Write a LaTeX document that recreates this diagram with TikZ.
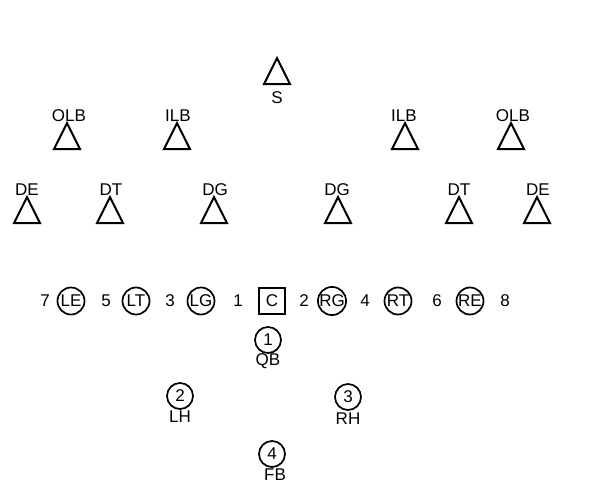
\documentclass[tikz,border=0pt]{standalone}
\usepackage{fontspec}
\setmainfont{Liberation Sans}
\usetikzlibrary{shapes.geometric}
\begin{document}
\begin{tikzpicture}[x=1pt,y=-1pt,
  every node/.style={font=\fontsize{17}{17}\selectfont, inner sep=0pt},
  tri/.style={draw, line width=2pt, isosceles triangle, isosceles triangle stretches=true,
    shape border rotate=90, minimum width=26pt, minimum height=26pt, inner sep=0pt},
  player/.style={draw, circle, line width=1.7pt, minimum size=27pt, inner sep=0pt},
  center/.style={draw, rectangle, line width=2pt, minimum size=26pt, inner sep=0pt},
  lbl/.style={}]
\useasboundingbox (0,0) rectangle (600,500);
% defense
\node[tri] (s) at (277,76) {};
\node[lbl] (sl) at (277,98) {S};
\node[tri] (olbl) at (67,141) {};
\node[lbl] (olbll) at (69,116) {OLB};
\node[tri] (ilbl) at (177,141) {};
\node[lbl] (ilbll) at (178,116) {ILB};
\node[tri] (ilbr) at (405,141) {};
\node[lbl] (ilbrl) at (404,116) {ILB};
\node[tri] (olbr) at (511,141) {};
\node[lbl] (olbrl) at (513,116) {OLB};
\node[tri] (del) at (27,215) {};
\node[lbl] (dell) at (27,190) {DE};
\node[tri] (dtl) at (110,215) {};
\node[lbl] (dtll) at (111,190) {DT};
\node[tri] (dgl) at (214,215) {};
\node[lbl] (dgll) at (215,190) {DG};
\node[tri] (dgr) at (338,215) {};
\node[lbl] (dgrl) at (337,190) {DG};
\node[tri] (dtr) at (459,215) {};
\node[lbl] (dtrl) at (459,190) {DT};
\node[tri] (der) at (537,215) {};
\node[lbl] (derl) at (538,190) {DE};
% offensive line
\node (h7) at (45,301) {7};
\node[player] (le) at (71,301) {LE};
\node (h5) at (106,301) {5};
\node[player] (lt) at (136,301) {LT};
\node (h3) at (170,301) {3};
\node[player] (lg) at (201,301) {LG};
\node (h1) at (238,301) {1};
\node[center] (c) at (272,301) {C};
\node (h2) at (304,301) {2};
\node[player] (rg) at (332,301) {RG};
\node (h4) at (365,301) {4};
\node[player] (rt) at (398,301) {RT};
\node (h6) at (437,301) {6};
\node[player] (re) at (470,301) {RE};
\node (h8) at (505,301) {8};
% backs
\node[player,minimum size=26pt] (qb) at (268,340) {1};
\node (qbl) at (268,361) {QB};
\node[player,minimum size=26pt] (lh) at (180,396) {2};
\node (lhl) at (180,417) {LH};
\node[player,minimum size=26pt] (rh) at (348,397) {3};
\node (rhl) at (348,419) {RH};
\node[player,minimum size=26pt] (fb) at (272,454) {4};
\node (fbl) at (275,475) {FB};
\end{tikzpicture}
\end{document}
